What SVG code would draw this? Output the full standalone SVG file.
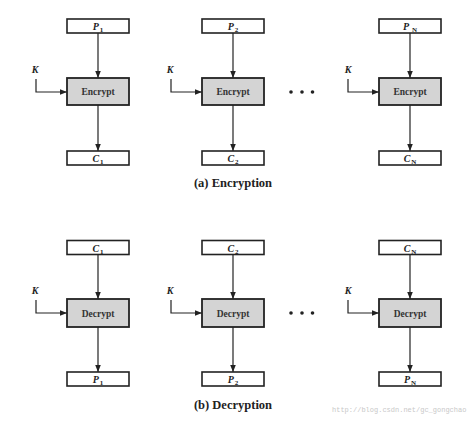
<svg xmlns="http://www.w3.org/2000/svg" width="474" height="421" viewBox="0 0 474 421">
<defs>
<marker id="ah" viewBox="0 0 10 10" refX="10" refY="5" markerWidth="7" markerHeight="7" markerUnits="userSpaceOnUse" orient="auto">
<path d="M0,1 L10,5 L0,9 z" fill="#222"/>
</marker>
<style>
.io{fill:#fff;stroke:#222;stroke-width:1.6}
.op{fill:#d4d4d4;stroke:#222;stroke-width:1.8}
.ln{fill:none;stroke:#222;stroke-width:1.2;marker-end:url(#ah)}
.var{font-family:"Liberation Serif",serif;font-style:italic;font-weight:bold;font-size:10px;fill:#222;text-anchor:middle}
.sub{font-size:7px;font-style:normal}
.opt{font-family:"Liberation Serif",serif;font-weight:bold;font-size:9.5px;fill:#333;text-anchor:middle}
.cap{font-family:"Liberation Serif",serif;font-weight:bold;font-size:12.5px;fill:#222;text-anchor:middle}
.dot{fill:#222}
.wm{font-family:"Liberation Mono",monospace;font-size:7px;fill:#c8c8c8}
</style>
</defs>
<rect width="474" height="421" fill="#fff"/>

<g id="connectors">
<line class="ln" x1="98" y1="33" x2="98" y2="78"/>
<line class="ln" x1="98" y1="105" x2="98" y2="151"/>
<polyline class="ln" points="36,79 36,92 67,92"/>
<line class="ln" x1="233" y1="33" x2="233" y2="78"/>
<line class="ln" x1="233" y1="105" x2="233" y2="151"/>
<polyline class="ln" points="171,79 171,92 202,92"/>
<line class="ln" x1="410" y1="33" x2="410" y2="78"/>
<line class="ln" x1="410" y1="105" x2="410" y2="151"/>
<polyline class="ln" points="348,79 348,92 379,92"/>

<line class="ln" x1="98" y1="254" x2="98" y2="299"/>
<line class="ln" x1="98" y1="327" x2="98" y2="372"/>
<polyline class="ln" points="36,300 36,313 67,313"/>
<line class="ln" x1="233" y1="254" x2="233" y2="299"/>
<line class="ln" x1="233" y1="327" x2="233" y2="372"/>
<polyline class="ln" points="171,300 171,313 202,313"/>
<line class="ln" x1="410" y1="254" x2="410" y2="299"/>
<line class="ln" x1="410" y1="327" x2="410" y2="372"/>
<polyline class="ln" points="348,300 348,313 379,313"/>
</g>

<g id="p1"><rect class="io" x="67" y="19" width="62" height="14"/><text class="var" x="98" y="30">P<tspan class="sub" dx="1" dy="2">1</tspan></text></g>
<g id="k1"><text class="var" x="35" y="73">K</text></g>
<g id="enc1"><rect class="op" x="67" y="78" width="62" height="27"/><text class="opt" x="98" y="95">Encrypt</text></g>
<g id="c1"><rect class="io" x="67" y="151" width="62" height="14"/><text class="var" x="98" y="162">C<tspan class="sub" dx="1" dy="2">1</tspan></text></g>

<g id="p2"><rect class="io" x="202" y="19" width="62" height="14"/><text class="var" x="233" y="30">P<tspan class="sub" dx="1" dy="2">2</tspan></text></g>
<g id="k2"><text class="var" x="170" y="73">K</text></g>
<g id="enc2"><rect class="op" x="202" y="78" width="62" height="27"/><text class="opt" x="233" y="95">Encrypt</text></g>
<g id="c2"><rect class="io" x="202" y="151" width="62" height="14"/><text class="var" x="233" y="162">C<tspan class="sub" dx="1" dy="2">2</tspan></text></g>

<g id="pN"><rect class="io" x="379" y="19" width="62" height="14"/><text class="var" x="410" y="30">P<tspan class="sub" dx="3" dy="2" font-style="italic">N</tspan></text></g>
<g id="kN"><text class="var" x="348" y="73">K</text></g>
<g id="encN"><rect class="op" x="379" y="78" width="62" height="27"/><text class="opt" x="410" y="95">Encrypt</text></g>
<g id="cN"><rect class="io" x="379" y="151" width="62" height="14"/><text class="var" x="410" y="162">C<tspan class="sub" dx="1" dy="2" font-style="italic">N</tspan></text></g>

<g id="dots-a"><circle class="dot" cx="291" cy="92" r="1.8"/><circle class="dot" cx="302" cy="92" r="1.8"/><circle class="dot" cx="312.5" cy="92" r="1.8"/></g>
<g id="cap-a"><text class="cap" x="233" y="187">(a) Encryption</text></g>

<g id="dc1"><rect class="io" x="67" y="240.5" width="62" height="14"/><text class="var" x="98" y="251.5">C<tspan class="sub" dx="1" dy="2">1</tspan></text></g>
<g id="dk1"><text class="var" x="35" y="294">K</text></g>
<g id="dec1"><rect class="op" x="67" y="299" width="62" height="28"/><text class="opt" x="98" y="316.5">Decrypt</text></g>
<g id="dp1"><rect class="io" x="67" y="372" width="62" height="14"/><text class="var" x="98" y="383">P<tspan class="sub" dx="1" dy="2">1</tspan></text></g>

<g id="dc2"><rect class="io" x="202" y="240.5" width="62" height="14"/><text class="var" x="233" y="251.5">C<tspan class="sub" dx="1" dy="2">2</tspan></text></g>
<g id="dk2"><text class="var" x="170" y="294">K</text></g>
<g id="dec2"><rect class="op" x="202" y="299" width="62" height="28"/><text class="opt" x="233" y="316.5">Decrypt</text></g>
<g id="dp2"><rect class="io" x="202" y="372" width="62" height="14"/><text class="var" x="233" y="383">P<tspan class="sub" dx="1" dy="2">2</tspan></text></g>

<g id="dcN"><rect class="io" x="379" y="240.5" width="62" height="14"/><text class="var" x="410" y="251.5">C<tspan class="sub" dx="1" dy="2" font-style="italic">N</tspan></text></g>
<g id="dkN"><text class="var" x="348" y="294">K</text></g>
<g id="decN"><rect class="op" x="379" y="299" width="62" height="28"/><text class="opt" x="410" y="316.5">Decrypt</text></g>
<g id="dpN"><rect class="io" x="379" y="372" width="62" height="14"/><text class="var" x="410" y="383">P<tspan class="sub" dx="1" dy="2" font-style="italic">N</tspan></text></g>

<g id="dots-b"><circle class="dot" cx="291" cy="313" r="1.8"/><circle class="dot" cx="302" cy="313" r="1.8"/><circle class="dot" cx="312.5" cy="313" r="1.8"/></g>
<g id="cap-b"><text class="cap" x="233" y="409">(b) Decryption</text></g>

<text class="wm" x="332" y="412">http://blog.csdn.net/gc_gongchao</text>
</svg>
